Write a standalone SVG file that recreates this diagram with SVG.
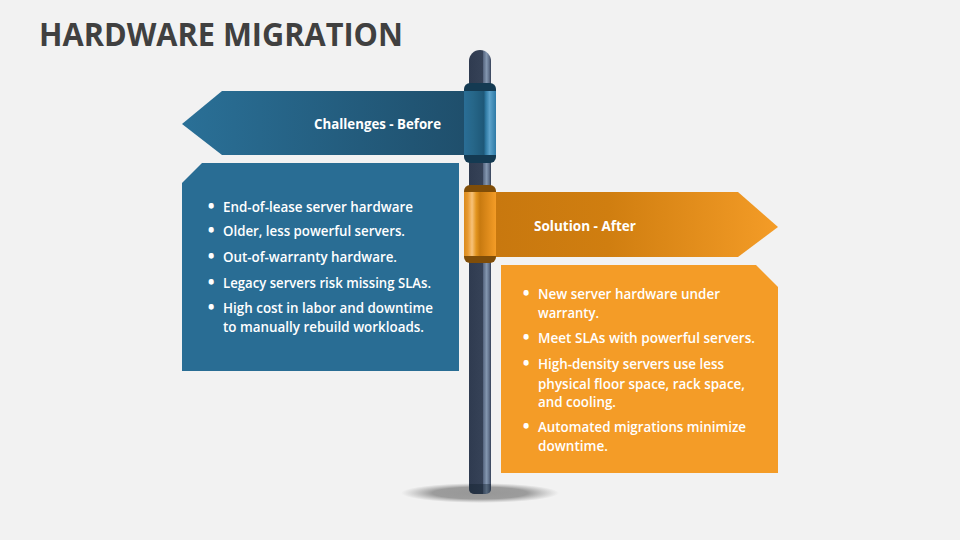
<svg xmlns="http://www.w3.org/2000/svg" width="960" height="540" viewBox="0 0 960 540">
<style>
text{font-family:"Open Sans","Noto Sans","Liberation Sans",sans-serif}
.title{font-size:33px;font-weight:700;fill:#404040}
.head{font-size:14px;font-weight:700;fill:#fff}
.b{font-size:14px;font-weight:600;fill:#fff}
.d{font-size:16px;font-weight:800;fill:#fff}
</style>
<defs>
<linearGradient id="pole" x1="0" x2="1" y1="0" y2="0">
<stop offset="0" stop-color="#2f3b50"/><stop offset="0.62" stop-color="#364257"/><stop offset="0.66" stop-color="#5b6b85"/><stop offset="0.8" stop-color="#8497b0"/><stop offset="0.92" stop-color="#5e6e88"/><stop offset="1" stop-color="#343f55"/>
</linearGradient>
<linearGradient id="blueArrow" x1="0" x2="1" y1="0" y2="0"><stop offset="0" stop-color="#2a7097"/><stop offset="1" stop-color="#1f4f6c"/></linearGradient>
<linearGradient id="orangeArrow" x1="0" x2="1" y1="0" y2="0"><stop offset="0" stop-color="#c8780f"/><stop offset="0.4" stop-color="#d07e10"/><stop offset="1" stop-color="#f49c27"/></linearGradient>
<linearGradient id="blueSleeve" x1="0" x2="1" y1="0" y2="0">
<stop offset="0" stop-color="#2a6e96"/><stop offset="0.3" stop-color="#266688"/><stop offset="0.62" stop-color="#1e5878"/><stop offset="0.68" stop-color="#2f7aa3"/><stop offset="0.8" stop-color="#5da3cb"/><stop offset="1" stop-color="#2f7aa6"/>
</linearGradient>
<linearGradient id="orangeSleeve" x1="0" x2="1" y1="0" y2="0">
<stop offset="0" stop-color="#d98a1e"/><stop offset="0.12" stop-color="#e89a30"/><stop offset="0.25" stop-color="#f7c27a"/><stop offset="0.38" stop-color="#e3951f"/><stop offset="0.5" stop-color="#c87a10"/><stop offset="1" stop-color="#f49c27"/>
</linearGradient>
<radialGradient id="shadow"><stop offset="0" stop-color="#979797"/><stop offset="0.6" stop-color="#9c9c9c"/><stop offset="1" stop-color="#aaa" stop-opacity="0"/></radialGradient>
</defs>
<rect width="960" height="540" fill="#f2f2f2"/>
<text class="title" x="39" y="46" textLength="364" lengthAdjust="spacingAndGlyphs">HARDWARE MIGRATION</text>
<ellipse id="pole-shadow" cx="480" cy="493" rx="79" ry="10" fill="url(#shadow)"/>
<g id="pole-post">
<path d="M469 61a11 11 0 0 1 22 0V489a5 5 0 0 1-5 5H474a5 5 0 0 1-5-5Z" fill="url(#pole)"/>
<path d="M469 484H491V489a5 5 0 0 1-5 5H474a5 5 0 0 1-5-5Z" fill="#12202c" opacity=".4"/>
</g>
<g id="challenges-sign">
<path d="M182 124L222 91H464V155H222Z" fill="url(#blueArrow)"/>
<rect x="464" y="83" width="32" height="80" rx="6" fill="#143a52"/>
<rect x="464" y="91" width="32" height="64" fill="url(#blueSleeve)"/>
<text class="head" x="314" y="129" textLength="127" lengthAdjust="spacingAndGlyphs">Challenges - Before</text>
</g>
<g id="challenges-box">
<path d="M182 183L202 163H459V371H182Z" fill="#296d94"/>
<text class="d" x="208" y="212">•</text><text class="b" x="223" y="212" textLength="190" lengthAdjust="spacingAndGlyphs">End-of-lease server hardware</text>
<text class="d" x="208" y="236">•</text><text class="b" x="223" y="236" textLength="182" lengthAdjust="spacingAndGlyphs">Older, less powerful servers.</text>
<text class="d" x="208" y="262">•</text><text class="b" x="223" y="262" textLength="174" lengthAdjust="spacingAndGlyphs">Out-of-warranty hardware.</text>
<text class="d" x="208" y="288">•</text><text class="b" x="223" y="288" textLength="208" lengthAdjust="spacingAndGlyphs">Legacy servers risk missing SLAs.</text>
<text class="d" x="208" y="313">•</text><text class="b" x="223" y="313" textLength="210" lengthAdjust="spacingAndGlyphs">High cost in labor and downtime</text>
<text class="b" x="223" y="332" textLength="201" lengthAdjust="spacingAndGlyphs">to manually rebuild workloads.</text>
</g>
<g id="solution-sign">
<path d="M496 192H738L778 227L738 257H496Z" fill="url(#orangeArrow)"/>
<rect x="464" y="185" width="32" height="78" rx="6" fill="#7f4d08"/>
<rect x="464" y="192" width="32" height="64" fill="url(#orangeSleeve)"/>
<text class="head" x="534" y="231" textLength="102" lengthAdjust="spacingAndGlyphs">Solution - After</text>
</g>
<g id="solution-box">
<path d="M501 265H756L778 287V473H501Z" fill="#f49c27"/>
<text class="d" x="523" y="299">•</text><text class="b" x="538" y="299" textLength="182" lengthAdjust="spacingAndGlyphs">New server hardware under</text>
<text class="b" x="538" y="318" textLength="61" lengthAdjust="spacingAndGlyphs">warranty.</text>
<text class="d" x="523" y="343">•</text><text class="b" x="538" y="343" textLength="217" lengthAdjust="spacingAndGlyphs">Meet SLAs with powerful servers.</text>
<text class="d" x="523" y="369">•</text><text class="b" x="538" y="369" textLength="186" lengthAdjust="spacingAndGlyphs">High-density servers use less</text>
<text class="b" x="538" y="389" textLength="207" lengthAdjust="spacingAndGlyphs">physical floor space, rack space,</text>
<text class="b" x="538" y="407" textLength="78" lengthAdjust="spacingAndGlyphs">and cooling.</text>
<text class="d" x="523" y="432">•</text><text class="b" x="538" y="432" textLength="208" lengthAdjust="spacingAndGlyphs">Automated migrations minimize</text>
<text class="b" x="538" y="451" textLength="70" lengthAdjust="spacingAndGlyphs">downtime.</text>
</g>
</svg>
